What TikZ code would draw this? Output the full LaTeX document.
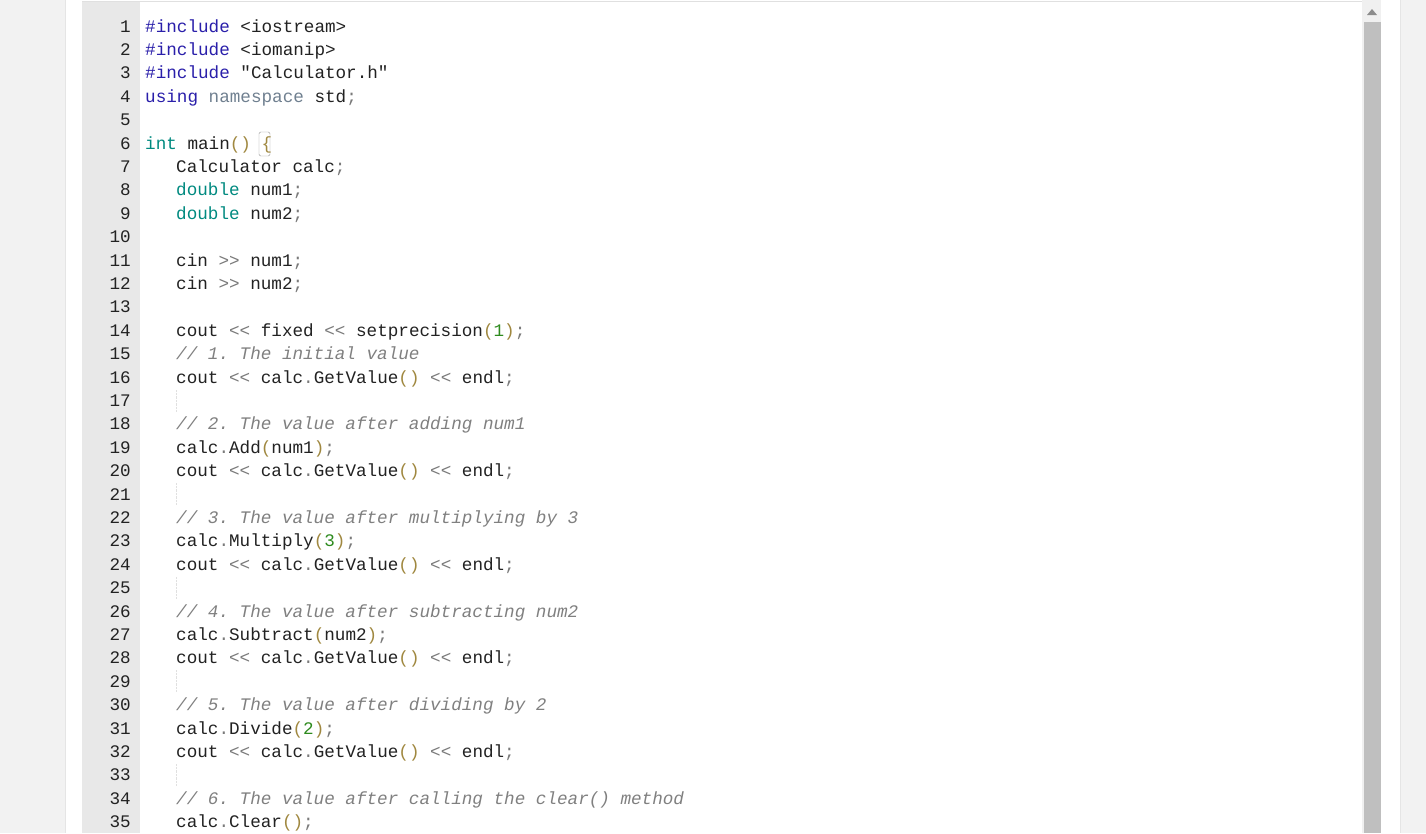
\documentclass[tikz,border=0pt]{standalone}
\usepackage{fontspec}
\setmonofont{Liberation Mono}
\definecolor{kw}{HTML}{2A1FAA}
\definecolor{ty}{HTML}{008A80}
\definecolor{nsp}{HTML}{708090}
\definecolor{pu}{HTML}{7A7A7A}
\definecolor{pa}{HTML}{A08840}
\definecolor{nu}{HTML}{2E8B1E}
\definecolor{cmt}{HTML}{808080}
\definecolor{txt}{HTML}{222222}
\newcommand{\cdK}[1]{\textcolor{kw}{#1}}
\newcommand{\cdT}[1]{\textcolor{ty}{#1}}
\newcommand{\cdN}[1]{\textcolor{nsp}{#1}}
\newcommand{\cdP}[1]{\textcolor{pu}{#1}}
\newcommand{\cdA}[1]{\textcolor{pa}{#1}}
\newcommand{\cdU}[1]{\textcolor{nu}{#1}}
\newcommand{\cdC}[1]{\textcolor{cmt}{\itshape #1}}
\newcommand{\cdsh}{\cdP{<{}<}}
\newcommand{\codeln}[3]{\node[code] (c#1) at (#2,{32+23.4*(#1-1)}) {#3};}
\begin{document}
\begin{tikzpicture}[x=1bp,y=-1bp,
  code/.style={anchor=base west,inner sep=0,font=\ttfamily\fontsize{17.7}{17.7}\selectfont,text=txt},
  lnum/.style={anchor=base east,inner sep=0,font=\ttfamily\fontsize{17.7}{17.7}\selectfont,text=txt}]
\useasboundingbox (0,0) rectangle (1426,833);
\fill[black!5] (0,0) rectangle (1426,833);
\fill[white] (65,0) rectangle (1400,833);
\draw[black!10] (65,0) -- (65,833) (1400,0)--(1400,833);
\draw[black!12] (82,1.5) -- (1362,1.5);
\fill[black!9] (82,2) rectangle (140,833);
\fill[black!6] (1362,0) rectangle (1381,833);
\fill[black!25] (1364,22) rectangle (1381,833);
\fill[black!45] (1372,9) -- (1367,15) -- (1377,15) -- cycle;
\foreach \y in {400,493,587,680,774}
  \draw[black!12,densely dotted] (176,\y-10) -- (176,\y+12);
\draw[black!40,rounded corners=1.5] (259,132) rectangle (270,156);
\foreach \n in {1,...,35} \node[lnum] (l\n) at (131,{32+23.4*(\n-1)}) {\n};
\codeln{1}{145}{\cdK{\#include} <iostream>}
\codeln{2}{145}{\cdK{\#include} <iomanip>}
\codeln{3}{145}{\cdK{\#include} "Calculator.h"}
\codeln{4}{145}{\cdK{using} \cdN{namespace} std\cdP{;}}
\codeln{6}{145}{\cdT{int} main\cdA{()} \cdA{\{}}
\codeln{7}{176}{Calculator calc\cdP{;}}
\codeln{8}{176}{\cdT{double} num1\cdP{;}}
\codeln{9}{176}{\cdT{double} num2\cdP{;}}
\codeln{11}{176}{cin \cdP{>{}>} num1\cdP{;}}
\codeln{12}{176}{cin \cdP{>{}>} num2\cdP{;}}
\codeln{14}{176}{cout \cdsh{} fixed \cdsh{} setprecision\cdA{(}\cdU{1}\cdA{)}\cdP{;}}
\codeln{15}{176}{\cdC{// 1. The initial value}}
\codeln{16}{176}{cout \cdsh{} calc\cdP{.}GetValue\cdA{()} \cdsh{} endl\cdP{;}}
\codeln{18}{176}{\cdC{// 2. The value after adding num1}}
\codeln{19}{176}{calc\cdP{.}Add\cdA{(}num1\cdA{)}\cdP{;}}
\codeln{20}{176}{cout \cdsh{} calc\cdP{.}GetValue\cdA{()} \cdsh{} endl\cdP{;}}
\codeln{22}{176}{\cdC{// 3. The value after multiplying by 3}}
\codeln{23}{176}{calc\cdP{.}Multiply\cdA{(}\cdU{3}\cdA{)}\cdP{;}}
\codeln{24}{176}{cout \cdsh{} calc\cdP{.}GetValue\cdA{()} \cdsh{} endl\cdP{;}}
\codeln{26}{176}{\cdC{// 4. The value after subtracting num2}}
\codeln{27}{176}{calc\cdP{.}Subtract\cdA{(}num2\cdA{)}\cdP{;}}
\codeln{28}{176}{cout \cdsh{} calc\cdP{.}GetValue\cdA{()} \cdsh{} endl\cdP{;}}
\codeln{30}{176}{\cdC{// 5. The value after dividing by 2}}
\codeln{31}{176}{calc\cdP{.}Divide\cdA{(}\cdU{2}\cdA{)}\cdP{;}}
\codeln{32}{176}{cout \cdsh{} calc\cdP{.}GetValue\cdA{()} \cdsh{} endl\cdP{;}}
\codeln{34}{176}{\cdC{// 6. The value after calling the clear() method}}
\codeln{35}{176}{calc\cdP{.}Clear\cdA{()}\cdP{;}}
\end{tikzpicture}
\end{document}
